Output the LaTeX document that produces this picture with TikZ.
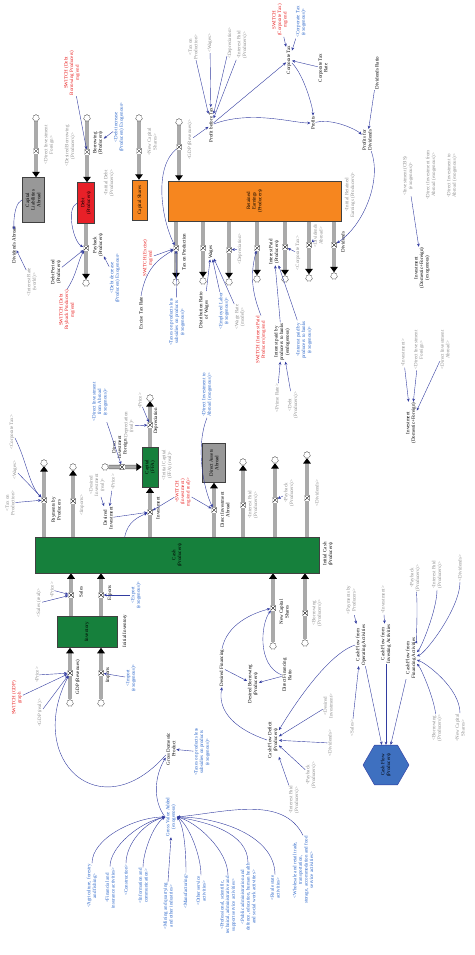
\documentclass[tikz,border=0pt]{standalone}
\usepackage{fontspec}
\setmainfont{Liberation Serif}
\usetikzlibrary{arrows.meta}
\usetikzlibrary{shapes}
\usetikzlibrary{backgrounds}
\definecolor{stkorange}{RGB}{246,134,31}
\definecolor{stkgreen}{RGB}{22,128,60}
\definecolor{stkred}{RGB}{232,32,40}
\definecolor{stkgrey}{RGB}{152,152,152}
\definecolor{txtgrey}{RGB}{140,140,140}
\definecolor{txtblue}{RGB}{40,100,200}
\definecolor{txtred}{RGB}{232,30,30}
\definecolor{lnkblue}{RGB}{50,60,160}
\definecolor{hexblue}{RGB}{62,112,192}
\definecolor{pipegrey}{RGB}{170,170,170}

\begin{document}
\begin{tikzpicture}[x=1pt, y=-1pt, font=\fontsize{5}{5.6}\selectfont]
	\tikzstyle{txt}=[rotate=90, align=center, inner sep=0.6pt]
	\tikzstyle{blk}=[txt, text=black]
	\tikzstyle{gry}=[txt, text=txtgrey]
	\tikzstyle{blu}=[txt, text=txtblue]
	\tikzstyle{rd}=[txt, text=txtred]
	\tikzstyle{stock}=[draw=black!75, line width=0.5pt, inner sep=0pt]
	\tikzstyle{cloudy}=[cloud, cloud puffs=7, aspect=1, draw=black!70, fill=white, minimum size=7pt, inner sep=0pt, line width=0.35pt]
	\tikzstyle{valve}=[minimum width=5pt, minimum height=5pt, inner sep=0pt, fill=white, path picture={\draw[line width=0.35pt] (path picture bounding box.north west) -- (path picture bounding box.south west) -- (path picture bounding box.north east) -- (path picture bounding box.south east) -- cycle;}]
	\tikzstyle{hvalve}=[minimum width=5pt, minimum height=5pt, inner sep=0pt, fill=white, path picture={\draw[line width=0.35pt] (path picture bounding box.north west) -- (path picture bounding box.north east) -- (path picture bounding box.south west) -- (path picture bounding box.south east) -- cycle;}]
	\tikzstyle{pipe}=[draw=pipegrey, line width=3.2pt, -{Triangle[length=5.5pt,width=7.5pt,black]}, preaction={draw=black!65, line width=4.4pt, -, shorten >=5.5pt}]
	\tikzstyle{lnk}=[draw=lnkblue, line width=0.4pt, -{Stealth[length=3.2pt,width=2.8pt]}]
	\useasboundingbox (0,0) rectangle (474,955);

	\node[stock, fill=stkgrey, minimum width=22pt, minimum height=45pt, label={[blk]center:{Capital\\Liabilities\\Abroad}}] (cla) at (33,200) {};
	\node[stock, fill=stkred, minimum width=17pt, minimum height=41pt, label={[blk]center:{Debt\\(Producers)}}] (debt) at (86,203) {};
	\node[stock, fill=stkorange, minimum width=15pt, minimum height=40pt, label={[blk]center:Capital Shares}] (cs) at (140,200) {};
	\node[stock, fill=stkorange, minimum width=173pt, minimum height=40pt, label={[blk]center:{Retained\\Earnings\\(Producers)}}] (re) at (254.5,201) {};
	\node[stock, fill=stkgreen, minimum width=284pt, minimum height=36pt, label={[blk]center:{Cash\\(Producers)}}] (cash) at (177,555) {};
	\node[stock, fill=stkgreen, minimum width=16pt, minimum height=40pt, label={[blk]center:{Capital\\(FFA)}}] (cap) at (150,467) {};
	\node[stock, fill=stkgrey, minimum width=23pt, minimum height=39pt, label={[blk]center:{Direct Assets\\Abroad}}] (daa) at (214,463) {};
	\node[stock, fill=stkgreen, minimum width=60pt, minimum height=31pt, label={[blk]center:Inventory}] (invt) at (87,632) {};
	\node[regular polygon, regular polygon sides=6, minimum size=46pt, draw=lnkblue, fill=hexblue, inner sep=0pt, label={[blk]center:{Cash Flow\\(Producers)}}] (cfp) at (386,765) {};

	\node[cloudy] (c1) at (36,118) {};
	\node[cloudy] (c2) at (87,118) {};
	\node[cloudy] (c4) at (139,118) {};
	\node[cloudy] (c5) at (179,122) {};
	\node[cloudy] (cdb) at (86,283) {};
	\node[cloudy] (ctp) at (176,282) {};
	\node[cloudy] (cwg) at (203,281) {};
	\node[cloudy] (cdp) at (229,282) {};
	\node[cloudy] (cip) at (257,279) {};
	\node[cloudy] (cct) at (285,279) {};
	\node[cloudy] (cda) at (309,278) {};
	\node[cloudy] (cdv) at (334,276) {};
	\node[cloudy] (cpay) at (44,463) {};
	\node[cloudy] (cimx) at (73,467) {};
	\node[cloudy] (cdif) at (105,467) {};
	\node[cloudy] (cdep) at (150,398) {};
	\node[cloudy] (cipc) at (243,462) {};
	\node[cloudy] (cpbc) at (275,460) {};
	\node[cloudy] (cdvc) at (307,455) {};
	\node[cloudy] (cncs) at (273,646) {};
	\node[cloudy] (cbrw) at (305,643) {};
	\node[cloudy] (cgdp) at (70,703) {};
	\node[cloudy] (cimp) at (101,703) {};

	\node[valve] (v1) at (36,151) {};
	\node[valve] (v2) at (87,152) {};
	\node[valve] (v4) at (139,151) {};
	\node[valve] (v5) at (179,147) {};
	\node[valve] (vdb) at (86,248) {};
	\node[valve] (vtp) at (176,248) {};
	\node[valve] (vwg) at (203,248) {};
	\node[valve] (vdp) at (229,250) {};
	\node[valve] (vip) at (257,248) {};
	\node[valve] (vct) at (285,247) {};
	\node[valve] (vda) at (309,245) {};
	\node[valve] (vdv) at (334,245) {};
	\node[valve] (vpay) at (44,500) {};
	\node[valve] (vimx) at (73,501) {};
	\node[valve] (vinv) at (150,512) {};
	\node[hvalve] (vdif) at (122,467) {};
	\node[valve] (vdep) at (150,425) {};
	\node[valve] (vdia) at (214,510) {};
	\node[valve] (vipc) at (243,505) {};
	\node[valve] (vpbc) at (275,500) {};
	\node[valve] (vdvc) at (307,498) {};
	\node[valve] (vsal) at (71,595) {};
	\node[valve] (vexp) at (101,595) {};
	\node[valve] (vncs) at (273,608) {};
	\node[valve] (vbrw) at (305,613) {};
	\node[valve] (vgdp) at (70,673) {};
	\node[valve] (vimp) at (101,673) {};

	\node[gry] (difl) at (49,145) {<Direct Investment\\Foreign>};
	\node[blk] (bor) at (98,143) {Borrowing\\(Producers)};
	\node[gry] (dbor) at (70,146) {<Desired Borrowing\\(Producers)>};
	\node[rd] (swdb) at (72,73) {SWITCH (Debt\\Borrowing Producers)\\mg/end};
	\node[blu] (dinc) at (119,127) {<Debt increase\\(Producers) Exogenous>};
	\node[gry] (idebt) at (109,183) {<Initial Debt\\(Producers)>};
	\node[blk] (pbk) at (98,245) {Payback\\(Producers)};
	\node[blk] (dper) at (56,272) {Debt Period\\(Producers)};
	\node[rd] (swdp) at (67,310) {SWITCH (Debt\\Payback Producers)\\mg/end};
	\node[blu] (ddec) at (115,278) {<Debt decrease\\(Producers) Exogenous>};
	\node[blk] (divab) at (14,245) {Dividends Abroad};
	\node[gry] (irw) at (32,282) {<Interest Rate\\(world)>};
	\node[gry] (ncsl) at (152,142) {<New Capital\\Shares>};
	\node[gry] (gdprl) at (190,140) {<GDP (Revenues)>};

	\node[blk] (tpl) at (184,252) {Tax on Production};
	\node[blk] (wgl) at (211,252) {Wages};
	\node[gry] (dpl) at (240,249) {<Depreciation>};
	\node[blk] (ipl) at (274,252) {Interest Paid\\(Producers)};
	\node[gry] (ctl) at (298,253) {<Corporate Tax>};
	\node[gry] (dal) at (318,236) {<Dividends\\Abroad>};
	\node[blk] (dvl) at (343,242) {Dividends};
	\node[gry] (ire) at (350,195) {<Initial Retained\\Earnings (Producers)>};

	\node[blk] (pbt) at (211,125) {Profit before Tax};
	\node[gry] (tp2) at (193,47) {<Tax on\\Production>};
	\node[gry] (wg2) at (210,43) {<Wages>};
	\node[gry] (dp2) at (230,43) {<Depreciation>};
	\node[gry] (ip2) at (242,45) {<Interest Paid\\(Producers)>};
	\node[blk] (ctax) at (289,60) {Corporate Tax};
	\node[rd] (swct) at (280,20) {SWITCH\\(Corporate Tax)\\mg/end};
	\node[blu] (ctexo) at (301,22) {<Corporate Tax\\(exogenous)>};
	\node[blk] (ctr) at (323,68) {Corporate Tax\\Rate};
	\node[blk] (prof) at (313,123) {Profits};
	\node[blk] (pfd) at (367,140) {Profits for\\Dividends};
	\node[blk] (dvr) at (377,73) {Dividends Ratio};

	\node[gry] (icbs) at (408,176) {<Investment (CBS)\\(exogenous)>};
	\node[gry] (difa) at (431,175) {<Direct Investment from\\Abroad (exogenous)>};
	\node[gry] (dita) at (452,176) {<Direct Investment to\\Abroad (exogenous)>};
	\node[blk] (idfx) at (422,268) {Investment\\(Domestic+Foreign)\\(exogenous)};
	\node[gry] (invl) at (403,353) {<Investment>};
	\node[gry] (dif2) at (419,350) {<Direct Investment\\Foreign>};
	\node[gry] (dia2) at (445,350) {<Direct Investment\\Abroad>};
	\node[blk] (idf) at (411,423) {Investment\\(Domestic+Foreign)};

	\node[blk] (etr) at (141,313) {Excise Tax Rate};
	\node[rd] (swex) at (148,258) {SWITCH (Excise)\\mg/end};
	\node[blu] (tps) at (177,322) {<Taxes on products less\\subsidies on products\\(exogenous)>};
	\node[blk] (drw) at (204,310) {Distribution Ratio\\of Wages};
	\node[blu] (eml) at (224,311) {<Employed Labor\\(exogenous)>};
	\node[gry] (wr) at (240,317) {<Wage Rate\\(model)>};
	\node[rd] (swip) at (261,340) {SWITCH (Interest Paid\\Producers) mg/end};
	\node[blk] (ipen) at (282,342) {Interest paid by\\producers to banks\\(endogenous)};
	\node[blu] (ipex) at (304,340) {<Interest paid by\\producers to banks\\(exogenous)>};
	\node[gry] (prr) at (277,398) {<Prime Rate>};
	\node[gry] (dbt2) at (293,405) {<Debt\\(Producers)>};

	\node[blk] (payl) at (56,510) {Payments by\\Producers};
	\node[gry] (tp3) at (10,503) {<Tax on\\Production>};
	\node[gry] (wg3) at (15,470) {<Wages>};
	\node[gry] (ct3) at (12,432) {<Corporate Tax>};
	\node[gry] (impl) at (82,505) {<Imports>};
	\node[blk] (dinv) at (108,518) {Desired\\Investment};
	\node[gry] (dinr) at (97,485) {<Desired\\Investment\\(real)>};
	\node[gry] (pr1) at (113,482) {<Price>};
	\node[blk] (invl2) at (158,508) {Investment};
	\node[blk] (difl2) at (120,447) {Direct\\Investment\\Foreign};
	\node[blu] (difx) at (100,402) {<Direct Investment\\from Abroad\\(exogenous)>};
	\node[blk] (depl) at (156,421) {Depreciation};
	\node[gry] (depr) at (129,426) {<Depreciation\\(real)>};
	\node[gry] (pr2) at (140,401) {<Price>};
	\node[gry] (icap) at (167,465) {<Initial Capital\\(FFA) (real)>};
	\node[rd] (swinv) at (183,492) {<SWITCH\\(Investment)\\mg/end real)>};
	\node[blk] (dial) at (225,510) {Direct Investment\\Abroad};
	\node[blu] (ditx) at (207,395) {<Direct Investment to\\Abroad (exogenous)>};
	\node[gry] (ipc) at (253,505) {<Interest Paid\\(Producers)>};
	\node[gry] (pbc) at (289,493) {<Payback\\(Producers)>};
	\node[gry] (dvc) at (317,493) {<Dividends>};
	\node[blk] (icash) at (328,554) {Initial Cash\\(Producers)};

	\node[blk] (sall) at (81,592) {Sales};
	\node[gry] (salr) at (39,603) {<Sales (real)>};
	\node[gry] (pr3) at (52,590) {<Price>};
	\node[blk] (expl) at (110,593) {Exports};
	\node[blu] (expx) at (136,595) {<Export\\(exogenous)>};
	\node[blk] (iinv) at (125,631) {Initial Inventory};
	\node[blk] (gdpl) at (78,677) {GDP (Revenues)};
	\node[gry] (pr4) at (37,675) {<Price>};
	\node[rd] (swgdp) at (17,698) {SWITCH (GDP)\\graph};
	\node[gry] (gdpr) at (40,713) {<GDP (real)>};
	\node[blk] (impl2) at (108,675) {Imports};
	\node[blu] (impx) at (131,678) {<Import\\(exogenous)>};
	\node[blk] (ncsl2) at (284,612) {New Capital\\Shares};
	\node[gry] (brwl) at (317,613) {<Borrowing\\(Producers)>};

	\node[blk] (dfin) at (222,668) {Desired Financing};
	\node[blk] (dbor2) at (253,684) {Desired Borrowing\\(Producers)};
	\node[blk] (dfr) at (287,675) {Direct Financing\\Ratio};
	\node[blk] (cfd) at (273,740) {Cash Flow Deficit\\(Producers)};
	\node[gry] (dinv3) at (328,706) {<Desired\\Investment>};
	\node[gry] (dv3) at (330,743) {<Dividends>};
	\node[gry] (pb3) at (311,775) {<Payback\\(Producers)>};
	\node[gry] (ip3) at (294,800) {<Interest Paid\\(Producers)>};

	\node[blk] (cfo) at (361,645) {Cash Flow from\\Operating Activities};
	\node[blk] (cfi) at (386,644) {Cash Flow from\\Investing Activities};
	\node[blk] (cff) at (411,658) {Cash Flow from\\Financing Activities};
	\node[gry] (payl2) at (351,600) {<Payments by\\Producers>};
	\node[gry] (sal2) at (352,728) {<Sales>};
	\node[gry] (inv3) at (383,600) {<Investment>};
	\node[gry] (pb4) at (415,578) {<Payback\\(Producers)>};
	\node[gry] (ip4) at (437,575) {<Interest Paid\\(Producers)>};
	\node[gry] (dv4) at (460,568) {<Dividends>};
	\node[gry] (brw4) at (437,728) {<Borrowing\\(Producers)>};
	\node[gry] (ncs4) at (460,728) {<New Capital\\Shares>};

	\node[blk] (gdp) at (171,749) {Gross Domestic\\Product};
	\node[blu] (tps2) at (202,752) {<Taxes on products less\\subsidies on products\\(exogenous)>};
	\node[blu] (gva) at (171,817) {Gross Value Added\\(exogenous)};
	\node[blu] (g1) at (92,886) {<Agriculture, forestry\\and fishing>};
	\node[blu] (g2) at (110,888) {<Financial and\\insurance activities>};
	\node[blu] (g3) at (126,880) {<Construction>};
	\node[blu] (g4) at (143,886) {<Information and\\communication>};
	\node[blu] (g5) at (168,906) {<Mining and quarrying\\and other industries>};
	\node[blu] (g6) at (186,891) {<Manufacturing>};
	\node[blu] (g7) at (201,891) {<Other service\\activities>};
	\node[blu] (g8) at (228,905) {<Professional, scientific,\\technical, administrative and\\support service activities>};
	\node[blu] (g9) at (248,897) {<Public administration and\\defence, education, human health\\and social work activities>};
	\node[blu] (g10) at (275,888) {<Real estate\\activities>};
	\node[blu] (g11) at (303,870) {<Wholesale and retail trade,\\transportation,\\storage, accommodation and food\\service activities>};

	\draw[lnk] (swdb) -- (v2);
	\draw[lnk] (dinc) -- (bor);
	\draw[lnk] (debt.west) .. controls +(-12,5) and +(-12,-5) .. (vdb);
	\draw[lnk] (dper) -- (vdb);
	\draw[lnk] (swdp.east) .. controls +(10,-15) and +(-8,12) .. (vdb);
	\draw[lnk] (ddec) -- (pbk);
	\draw[lnk] (cla.west) .. controls +(-10,5) and +(0,-10) .. (divab);
	\draw[lnk] (irw) -- (divab);

	\draw[lnk] (v5) .. controls +(-25,20) and +(-15,-30) .. (vtp);
	\draw[lnk] (dpl) -- (vdp);
	\draw[lnk] (ctl) -- (vct);
	\draw[lnk] (dal) -- (vda);
	\draw[lnk] (etr.east) .. controls +(5,-30) and +(-15,10) .. (vtp);
	\draw[lnk] (swex) -- (vtp);
	\draw[lnk] (tps) -- (vtp);
	\draw[lnk] (drw) -- (wgl);
	\draw[lnk] (eml) -- (wgl);
	\draw[lnk] (wr) -- (wgl);
	\draw[lnk] (swip.east) .. controls +(-12,-30) and +(-5,20) .. (vip);
	\draw[lnk] (ipen) -- (ipl);
	\draw[lnk] (ipex) -- (ipl);
	\draw[lnk] (prr) -- (ipen);
	\draw[lnk] (dbt2) -- (ipen);

	\draw[lnk] (tp2) -- (pbt);
	\draw[lnk] (wg2) -- (pbt);
	\draw[lnk] (dp2) -- (pbt);
	\draw[lnk] (ip2) -- (pbt);
	\draw[lnk] (gdprl) -- (pbt);
	\draw[lnk] (pbt) -- (ctax);
	\draw[lnk] (ctr) -- (ctax);
	\draw[lnk] (swct) -- (ctax);
	\draw[lnk] (ctexo) -- (ctax);
	\draw[lnk] (pbt) .. controls +(40,-15) and +(-20,0) .. (prof);
	\draw[lnk] (ctax) .. controls +(15,15) and +(0,-15) .. (prof);
	\draw[lnk] (prof) .. controls +(20,-5) and +(-10,-10) .. (pfd);
	\draw[lnk] (dvr) -- (pfd);
	\draw[lnk] (pfd) .. controls +(15,40) and +(30,-20) .. (vdv);

	\draw[lnk] (icbs) -- (idfx);
	\draw[lnk] (invl) -- (idf);
	\draw[lnk] (dif2) -- (idf);
	\draw[lnk] (dia2) -- (idf);

	\draw[lnk] (tp3) -- (vpay);
	\draw[lnk] (wg3) -- (vpay);
	\draw[lnk] (ct3) .. controls +(15,30) and +(-15,-15) .. (vpay);
	\draw[lnk] (dinr) -- (dinv);
	\draw[lnk] (pr1) -- (dinv);
	\draw[lnk] (dinv) -- (vinv);
	\draw[lnk] ([xshift=90pt]cash.north west) .. controls +(3,-15) and +(-12,5) .. (vinv);
	\draw[lnk] (swinv) -- (vinv);
	\draw[lnk] (swinv) -- (vdia);
	\draw[lnk] (ditx.west) .. controls +(-12,30) and +(-10,-20) .. (vdia);
	\draw[lnk] (difx) -- (vdif);
	\draw[lnk] (depr) -- (vdep);
	\draw[lnk] (pr2) -- (vdep);
	\draw[lnk] (pbc) -- (vpbc);

	\draw[lnk] (salr) -- (vsal);
	\draw[lnk] (pr3) -- (vsal);
	\draw[lnk] (expx) -- (vexp);
	\draw[lnk] (pr4) -- (vgdp);
	\draw[lnk] (swgdp) -- (vgdp);
	\draw[lnk] (gdpr) -- (vgdp);
	\draw[lnk] (impx) -- (vimp);

	\draw[lnk] (dfin.east) .. controls +(5,-25) and +(-20,5) .. (vncs);
	\draw[lnk] (dfin) -- (dbor2);
	\draw[lnk] (dfr.north) .. controls +(-25,-10) and +(-12,15) .. (vncs);
	\draw[lnk] (dfr) -- (dbor2);
	\draw[lnk] (cfd.north) .. controls +(-30,-10) and +(-5,25) .. (dfin.west);
	\draw[lnk] (dinv3) -- (cfd);
	\draw[lnk] (dv3) -- (cfd);
	\draw[lnk] (pb3) -- (cfd);
	\draw[lnk] (ip3) -- (cfd);
	\draw[lnk] (cfo.north) .. controls +(-30,10) and +(15,-25) .. (cfd);

	\draw[lnk] (payl2) -- (cfo);
	\draw[lnk] (sal2) -- (cfo);
	\draw[lnk] (inv3) -- (cfi);
	\draw[lnk] (cfo) -- (cfp);
	\draw[lnk] (cfi) -- (cfp);
	\draw[lnk] (cff) -- (cfp);
	\draw[lnk] (pb4) .. controls +(3,30) and +(5,-15) .. (cff);
	\draw[lnk] (ip4) .. controls +(0,35) and +(10,-10) .. (cff);
	\draw[lnk] (dv4) .. controls +(0,40) and +(15,-5) .. (cff);
	\draw[lnk] (brw4) .. controls +(-3,-30) and +(10,10) .. (cff);
	\draw[lnk] (ncs4) .. controls +(0,-40) and +(15,5) .. (cff);

	\draw[lnk] (tps2) -- (gdp);
	\draw[lnk] (gva.north) .. controls (152,800) and (155,775) .. (gdp);
	\draw[lnk] (gdp) .. controls (100,830) and (25,760) .. (vgdp);
	\draw[lnk] (g1.east) .. controls +(0,-25) and +(-30,0) .. (gva.north);
	\draw[lnk] (g2.east) .. controls +(0,-20) and +(-25,5) .. (gva.north);
	\draw[lnk] (g3.east) .. controls +(0,-20) and +(-20,5) .. (gva.north);
	\draw[lnk] (g4.east) .. controls +(0,-15) and +(-12,8) .. (gva.north);
	\draw[lnk] (g5.east) -- (gva.west);
	\draw[lnk] (g6.east) .. controls +(0,-15) and +(8,10) .. (gva.south);
	\draw[lnk] (g7.east) .. controls +(0,-20) and +(12,8) .. (gva.south);
	\draw[lnk] (g8.east) .. controls +(0,-25) and +(20,5) .. (gva.south);
	\draw[lnk] (g9.east) .. controls +(0,-30) and +(30,5) .. (gva.south);
	\draw[lnk] (g10.east) .. controls +(0,-40) and +(40,0) .. (gva.south);
	\draw[lnk] (g11.east) .. controls +(-20,-40) and +(50,-5) .. (gva.south);

	\begin{pgfonlayer}{background}
	\draw[pipe] (c1) -- (c1 |- cla.north);
	\draw[pipe] (c2) -- (c2 |- debt.north);
	\draw[pipe] (c4) -- (c4 |- cs.north);
	\draw[pipe] (c5) -- (c5 |- re.north);
	\draw[pipe] (cdb |- debt.south) -- (cdb);
	\draw[pipe] (ctp |- re.south) -- (ctp);
	\draw[pipe] (cwg |- re.south) -- (cwg);
	\draw[pipe] (cdp |- re.south) -- (cdp);
	\draw[pipe] (cip |- re.south) -- (cip);
	\draw[pipe] (cct |- re.south) -- (cct);
	\draw[pipe] (cda |- re.south) -- (cda);
	\draw[pipe] (cdv |- re.south) -- (cdv);
	\draw[pipe] (cpay |- cash.north) -- (cpay);
	\draw[pipe] (cimx |- cash.north) -- (cimx);
	\draw[pipe] (cap |- cash.north) -- (cap.south);
	\draw[pipe] (cdif) -- (cap.west);
	\draw[pipe] (cap.north) -- (cdep);
	\draw[pipe] (daa |- cash.north) -- (daa.south);
	\draw[pipe] (cipc |- cash.north) -- (cipc);
	\draw[pipe] (cpbc |- cash.north) -- (cpbc);
	\draw[pipe] (cdvc |- cash.north) -- (cdvc);
	\draw[pipe] (vsal |- invt.north) -- (vsal |- cash.south);
	\draw[pipe] (vexp |- invt.north) -- (vexp |- cash.south);
	\draw[pipe] (cncs) -- (cncs |- cash.south);
	\draw[pipe] (cbrw) -- (cbrw |- cash.south);
	\draw[pipe] (cgdp) -- (cgdp |- invt.south);
	\draw[pipe] (cimp) -- (cimp |- invt.south);
	\end{pgfonlayer}
\end{tikzpicture}
\end{document}
